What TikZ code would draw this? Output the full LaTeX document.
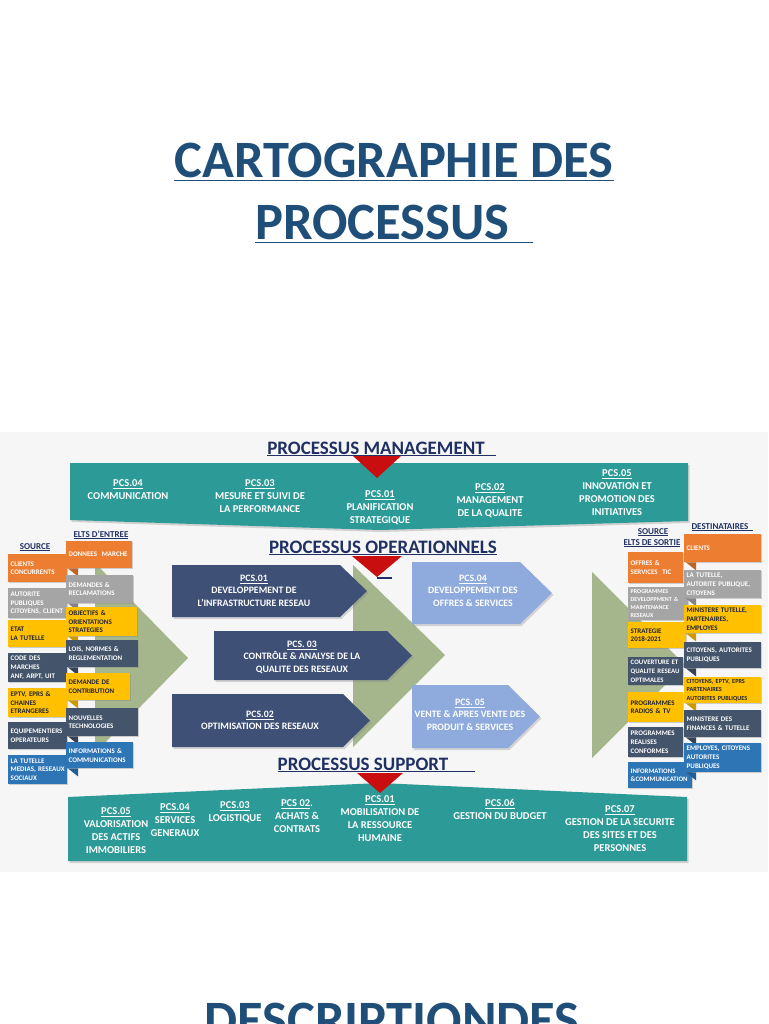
\documentclass[tikz,border=0pt]{standalone}
\usepackage{fontspec}
\setmainfont{Carlito}
\usetikzlibrary{shadows}
\definecolor{titleblue}{RGB}{31,78,121}
\definecolor{headnavy}{RGB}{32,48,100}
\definecolor{bannerteal}{RGB}{44,154,150}
\definecolor{corange}{RGB}{237,125,49}
\definecolor{cgray}{RGB}{165,165,165}
\definecolor{cyellow}{RGB}{255,192,0}
\definecolor{cnavy}{RGB}{68,84,106}
\definecolor{cblue}{RGB}{46,117,182}
\definecolor{arrnavy}{RGB}{62,80,118}
\definecolor{arrlight}{RGB}{143,170,220}
\definecolor{cgreen}{RGB}{165,182,141}
\definecolor{cred}{RGB}{200,14,14}
\definecolor{ytext}{RGB}{30,35,60}
\definecolor{bggray}{RGB}{246,246,246}
\tikzset{
 titlest/.style={font=\fontsize{52.5}{60}\selectfont\bfseries, text=titleblue, inner sep=0pt},
 headst/.style={font=\fontsize{19}{22}\selectfont\bfseries, text=headnavy, inner sep=0pt},
 lblst/.style={font=\fontsize{9}{10}\selectfont\bfseries, text=headnavy, inner sep=0pt},
 bantext/.style={font=\fontsize{10.5}{13}\selectfont\bfseries, text=white, align=center, inner sep=0pt},
 arrtext/.style={font=\fontsize{9.8}{12.3}\selectfont\bfseries, text=white, align=center, inner sep=0pt},
 cbox/.style={font=\fontsize{7}{8.8}\selectfont\bfseries, align=left, inner xsep=2.5pt, inner ysep=1pt,
   drop shadow={shadow xshift=1.2pt,shadow yshift=-1.2pt,opacity=0.35}},
 shad/.style={drop shadow={shadow xshift=1.5pt,shadow yshift=-2pt,opacity=0.3}},
}
\newcommand{\cbx}[8]{%
  \pgfmathsetlengthmacro\cbxtw{#4pt-5pt}%
  \node[cbox, fill=#6, text=#7, minimum width=#4pt, minimum height=#5pt, text width=\cbxtw, anchor=north west] (#1) at (#2,#3) {\hyphenpenalty=10000 \exhyphenpenalty=10000 #8};}
\newcommand{\mytab}[2]{\fill[#2!80!black] ([xshift=2pt]#1.south west) -- ([xshift=12pt]#1.south west) -- ([xshift=12pt,yshift=-8pt]#1.south west) -- cycle;}
\begin{document}
\begin{tikzpicture}[x=1pt,y=-1pt]
\useasboundingbox (0,0) rectangle (768,1024);
\fill[white] (0,0) rectangle (768,1024);
\fill[bggray] (0,432) rectangle (768,872);

% title
\node[titlest, anchor=base] (t1) at (394,178) {\underline{CARTOGRAPHIE DES}};
\node[titlest, anchor=base] (t2) at (394,240) {\underline{PROCESSUS\hspace{23pt}}};
\node[titlest, anchor=base] (t3) at (392,1037) {DESCRIPTIONDES};

% management banner
\fill[bannerteal, shad] (70,463) -- (688,463) -- (688,521) -- (380,530) -- (70,520) -- cycle;
\node[bantext, anchor=north] (m4) at (128,479.6) {\underline{PCS.04}\\COMMUNICATION};
\node[bantext, anchor=north] (m3) at (260,479.6) {\underline{PCS.03}\\MESURE ET SUIVI DE\\LA PERFORMANCE};
\node[bantext, anchor=north] (m1) at (380,490.6) {\underline{PCS.01}\\PLANIFICATION\\STRATEGIQUE};
\node[bantext, anchor=north] (m2) at (490,483.6) {\underline{PCS.02}\\MANAGEMENT\\DE LA QUALITE};
\node[bantext, anchor=north] (m5) at (617,469.6) {\underline{PCS.05}\\INNOVATION ET\\PROMOTION DES\\INITIATIVES};

% green chevrons
\fill[cgreen] (95,563) -- (188,658) -- (95,753) -- cycle;
\fill[cgreen] (353,565) -- (445,655) -- (353,747) -- cycle;
\fill[cgreen] (592,572) -- (685,665) -- (592,758) -- cycle;

% operational arrows
\fill[arrnavy, shad] (172,565) -- (340,565) -- (367,591) -- (340,617) -- (172,617) -- cycle;
\node[arrtext, anchor=north] (o1) at (254,575) {\underline{PCS.01}\\DEVELOPPEMENT DE\\L’INFRASTRUCTURE RESEAU};
\fill[arrnavy, shad] (214,631) -- (387,631) -- (412,655.5) -- (387,680) -- (214,680) -- cycle;
\node[arrtext, anchor=north] (o3) at (302,641) {\underline{PCS. 03}\\CONTRÔLE \& ANALYSE DE LA\\QUALITE DES RESEAUX};
\fill[arrnavy, shad] (172,694) -- (343,694) -- (370,720.5) -- (343,747) -- (172,747) -- cycle;
\node[arrtext, anchor=north] (o2) at (260,711) {\underline{PCS.02}\\OPTIMISATION DES RESEAUX};
\fill[arrlight, shad] (412,562) -- (520,562) -- (552,593) -- (520,624) -- (412,624) -- cycle;
\node[arrtext, anchor=north] (o4) at (473,575) {\underline{PCS.04}\\DEVELOPPEMENT DES\\OFFRES \& SERVICES};
\fill[arrlight, shad] (412,685) -- (508,685) -- (540,716.5) -- (508,748) -- (412,748) -- cycle;
\node[arrtext, anchor=north] (o5) at (470,699) {\underline{PCS. 05}\\VENTE \& APRES VENTE DES\\PRODUIT \& SERVICES};

% left: sources
\cbx{s1}{8}{554}{59}{28}{corange}{white}{CLIENTS\\CONCURRENTS}
\cbx{s2}{8}{588}{59}{30}{cgray}{white}{AUTORITE\\PUBLIQUES\\CITOYENS, CLIENT}
\cbx{s3}{8}{620}{59}{27}{cyellow}{ytext}{ETAT\\LA TUTELLE}
\cbx{s4}{8}{653}{59}{29}{cnavy}{white}{CODE DES\\MARCHES\\ANF, ARPT, UIT}
\cbx{s5}{8}{688}{59}{29}{cyellow}{ytext}{EPTV, EPRS \&\\CHAINES\\ETRANGERES}
\cbx{s6}{8}{722}{59}{27}{cnavy}{white}{EQUIPEMENTIERS\\OPERATEURS}
\cbx{s7}{8}{755}{59}{29}{cblue}{white}{LA TUTELLE\\MEDIAS, RESEAUX\\SOCIAUX}
% left: entrees
\cbx{e1}{66}{541}{66}{27}{corange}{white}{DONNEES\ \ MARCHE}\mytab{e1}{corange}
\cbx{e2}{66}{575}{67}{28}{cgray}{white}{DEMANDES \&\\RECLAMATIONS}\mytab{e2}{cgray}
\cbx{e3}{66}{607}{71}{29}{cyellow}{ytext}{OBJECTIFS \&\\ORIENTATIONS\\STRATEGIES}\mytab{e3}{cyellow}
\cbx{e4}{66}{640}{72}{27}{cnavy}{white}{LOIS, NORMES \&\\REGLEMENTATION}\mytab{e4}{cnavy}
\cbx{e5}{66}{673}{64}{27}{cyellow}{ytext}{DEMANDE DE\\CONTRIBUTION}\mytab{e5}{cyellow}
\cbx{e6}{66}{708}{72}{28}{cnavy}{white}{NOUVELLES\\TECHNOLOGIES}\mytab{e6}{cnavy}
\cbx{e7}{66}{742}{67}{26}{cblue}{white}{INFORMATIONS \&\\COMMUNICATIONS}\mytab{e7}{cblue}

% right: sorties
\cbx{r1}{628}{552}{55}{31}{corange}{white}{OFFRES \&\\SERVICES\ \ TIC}
\cbx{r2}{628}{587}{60}{33}{cgray}{white}{\fontsize{6}{7.8}\selectfont PROGRAMMES\\DEVELOPPMENT \&\\MAINTENANCE\\RESEAUX}
\cbx{r3}{628}{622}{58}{26}{cyellow}{ytext}{STRATEGIE\\2018-2021}
\cbx{r4}{628}{657}{55}{28}{cnavy}{white}{\fontsize{6.8}{8.6}\selectfont COUVERTURE ET\\QUALITE RESEAU\\OPTIMALES}
\cbx{r5}{628}{692}{55}{30}{cyellow}{ytext}{PROGRAMMES\\RADIOS \& TV}
\cbx{r6}{628}{727}{55}{30}{cnavy}{white}{PROGRAMMES\\REALISES\\CONFORMES}
\cbx{r7}{628}{762}{64}{26}{cblue}{white}{\fontsize{6.8}{8.6}\selectfont INFORMATIONS\\\&COMMUNICATION}
% right: destinataires
\cbx{d1}{684}{534}{77}{28}{corange}{white}{CLIENTS}\mytab{d1}{corange}
\cbx{d2}{684}{570}{77}{28}{cgray}{white}{LA TUTELLE,\\AUTORITE PUBLIQUE,\\CITOYENS}\mytab{d2}{cgray}
\cbx{d3}{684}{605}{77}{28}{cyellow}{ytext}{MINISTERE TUTELLE,\\PARTENAIRES,\\EMPLOYES}\mytab{d3}{cyellow}
\cbx{d4}{684}{642}{77}{26}{cnavy}{white}{CITOYENS, AUTORITES\\PUBLIQUES}\mytab{d4}{cnavy}
\cbx{d5}{684}{677}{77}{26}{cyellow}{ytext}{\fontsize{6.2}{7.8}\selectfont CITOYENS, EPTV, EPRS\\PARTENAIRES\\AUTORITES PUBLIQUES}\mytab{d5}{cyellow}
\cbx{d6}{684}{710}{77}{27}{cnavy}{white}{MINISTERE DES\\FINANCES \& TUTELLE}\mytab{d6}{cnavy}
\cbx{d7}{684}{743}{77}{29}{cblue}{white}{EMPLOYES, CITOYENS\\AUTORITES\\PUBLIQUES}\mytab{d7}{cblue}

% support banner
\fill[bannerteal, shad] (68,797) -- (380,783) -- (687,797) -- (687,861) -- (68,861) -- cycle;
\node[bantext, anchor=north] (p5) at (116,807.6) {\underline{PCS.05}\\VALORISATION\\DES ACTIFS\\IMMOBILIERS};
\node[bantext, anchor=north] (p4) at (175,803.6) {\underline{PCS.04}\\SERVICES\\GENERAUX};
\node[bantext, anchor=north] (p3) at (235,801.6) {\underline{PCS.03}\\LOGISTIQUE};
\node[bantext, anchor=north] (p2) at (297,799.6) {\underline{PCS 02}.\\ACHATS \&\\CONTRATS};
\node[bantext, anchor=north] (p1) at (380,795.6) {\underline{PCS.01}\\MOBILISATION DE\\LA RESSOURCE\\HUMAINE};
\node[bantext, anchor=north] (p6) at (500,799.6) {\underline{PCS.06}\\GESTION DU BUDGET};
\node[bantext, anchor=north] (p7) at (620,805.6) {\underline{PCS.07}\\GESTION DE LA SECURITE\\DES SITES ET DES\\PERSONNES};

% headings and red markers
\node[headst, anchor=base] (hm) at (381.5,454) {\underline{PROCESSUS MANAGEMENT\hspace{11pt}}};
\node[headst, anchor=base] (ho) at (383,553) {\underline{PROCESSUS OPERATIONNELS}};
\node[headst, anchor=base] (hs) at (376.5,770) {\underline{PROCESSUS SUPPORT\hspace{27pt}}};
\fill[cred] (353,456) -- (401,456) -- (377,478) -- cycle;
\fill[cred] (352,556) -- (402,556) -- (377,577) -- cycle;
\fill[cred] (357,773) -- (403,773) -- (380,793) -- cycle;
\coordinate (u1) at (377,578);
\coordinate (u2) at (392,578);
\draw[headnavy, line width=1.2pt] (u1) -- (u2);

% column labels
\node[lblst, anchor=base] (le) at (101,537) {\underline{ELTS D’ENTREE}};
\node[lblst, anchor=base] (ls) at (35,549) {\underline{SOURCE}};
\node[lblst, anchor=base] (rs1) at (653,534) {\underline{SOURCE}};
\node[lblst, anchor=base] (rs2) at (652,545) {\underline{ELTS DE SORTIE}};
\node[lblst, anchor=base] (rd) at (722.5,529) {\underline{DESTINATAIRES\hspace{5pt}}};
\end{tikzpicture}
\end{document}
